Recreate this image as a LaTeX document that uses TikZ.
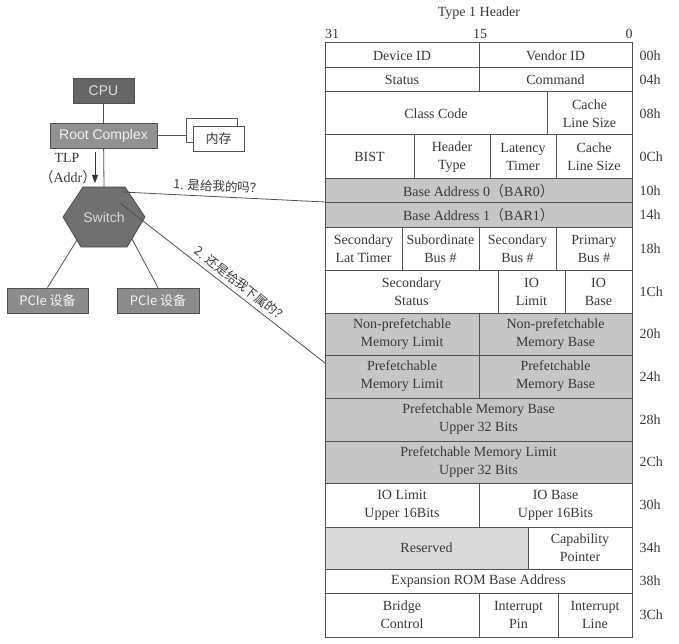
\documentclass[tikz,border=0pt]{standalone}
\usepackage{fontspec}
\setmainfont{Liberation Serif}
\setsansfont{Liberation Sans}
\newfontfamily\cjk{Noto Sans CJK SC}
\usetikzlibrary{arrows.meta}

\definecolor{linegray}{HTML}{505050}
\definecolor{txtgray}{HTML}{383838}
\definecolor{regshade}{HTML}{C6C6C6}
\definecolor{resshade}{HTML}{DADADA}

\tikzset{
  reg/.style={draw=linegray, line width=1pt, fill=white},
  regtext/.style={align=center, text=txtgray, font=\fontsize{14}{18}\selectfont, inner sep=0pt},
  offtext/.style={anchor=west, text=txtgray, font=\fontsize{14}{18}\selectfont},
  hwbox/.style={draw=linegray, line width=0.8pt, minimum height=25pt, inner sep=0pt,
                font=\sffamily\fontsize{14}{16}\selectfont},
  wire/.style={draw=linegray, line width=0.8pt}
}

\begin{document}
\begin{tikzpicture}[x=1pt, y=-1pt]
  \useasboundingbox (0,0) rectangle (679,644);

  % Header title and bit numbers
  \node[regtext] (title) at (479,13) {Type 1 Header};
  \node[regtext, anchor=west] (bit31) at (325,34) {31};
  \node[regtext] (bit15) at (480,34) {15};
  \node[regtext] (bit0) at (629,34) {0};

  % 00h
  \draw[reg] (325,43) rectangle (479,68) node[regtext, midway] (devid) {Device ID};
  \draw[reg] (479,43) rectangle (632,68) node[regtext, midway] (venid) {Vendor ID};
  \node[offtext] (o00) at (636,55.5) {00h};
  % 04h
  \draw[reg] (325,68) rectangle (479,92) node[regtext, midway] (status) {Status};
  \draw[reg] (479,68) rectangle (632,92) node[regtext, midway] (command) {Command};
  \node[offtext] (o04) at (636,80) {04h};
  % 08h
  \draw[reg] (325,92) rectangle (547,135) node[regtext, midway] (classcode) {Class Code};
  \draw[reg] (547,92) rectangle (632,135) node[regtext, midway] (cls1) {Cache\\Line Size};
  \node[offtext] (o08) at (636,113.5) {08h};
  % 0Ch
  \draw[reg] (325,135) rectangle (414,179) node[regtext, midway] (bist) {BIST};
  \draw[reg] (414,135) rectangle (490,179) node[regtext, midway] (hdrtype) {Header\\Type};
  \draw[reg] (490,135) rectangle (556,179) node[regtext, midway] (lattimer) {Latency\\Timer};
  \draw[reg] (556,135) rectangle (632,179) node[regtext, midway] (cls2) {Cache\\Line Size};
  \node[offtext] (o0c) at (636,157) {0Ch};
  % 10h, 14h
  \draw[reg, fill=regshade] (325,179) rectangle (632,203) node[regtext, midway] (bar0) {Base Address 0{\cjk （}BAR0{\cjk ）}};
  \node[offtext] (o10) at (636,191) {10h};
  \draw[reg, fill=regshade] (325,203) rectangle (632,227) node[regtext, midway] (bar1) {Base Address 1{\cjk （}BAR1{\cjk ）}};
  \node[offtext] (o14) at (636,215) {14h};
  % 18h
  \draw[reg] (325,227) rectangle (402,270) node[regtext, midway] (seclat) {Secondary\\Lat Timer};
  \draw[reg] (402,227) rectangle (479,270) node[regtext, midway] (subbus) {Subordinate\\Bus \#};
  \draw[reg] (479,227) rectangle (556,270) node[regtext, midway] (secbus) {Secondary\\Bus \#};
  \draw[reg] (556,227) rectangle (632,270) node[regtext, midway] (pribus) {Primary\\Bus \#};
  \node[offtext] (o18) at (636,248.5) {18h};
  % 1Ch
  \draw[reg] (325,270) rectangle (498,313) node[regtext, midway] (secstat) {Secondary\\Status};
  \draw[reg] (498,270) rectangle (565,313) node[regtext, midway] (iolim) {IO\\Limit};
  \draw[reg] (565,270) rectangle (632,313) node[regtext, midway] (iobase) {IO\\Base};
  \node[offtext] (o1c) at (636,291.5) {1Ch};
  % 20h, 24h
  \draw[reg, fill=regshade] (325,313) rectangle (479,355) node[regtext, midway] (npmlim) {Non-prefetchable\\Memory Limit};
  \draw[reg, fill=regshade] (479,313) rectangle (632,355) node[regtext, midway] (npmbase) {Non-prefetchable\\Memory Base};
  \node[offtext] (o20) at (636,334) {20h};
  \draw[reg, fill=regshade] (325,355) rectangle (479,398) node[regtext, midway] (pmlim) {Prefetchable\\Memory Limit};
  \draw[reg, fill=regshade] (479,355) rectangle (632,398) node[regtext, midway] (pmbase) {Prefetchable\\Memory Base};
  \node[offtext] (o24) at (636,376.5) {24h};
  % 28h, 2Ch
  \draw[reg, fill=regshade] (325,398) rectangle (632,441) node[regtext, midway] (pmbaseup) {Prefetchable Memory Base\\Upper 32 Bits};
  \node[offtext] (o28) at (636,419.5) {28h};
  \draw[reg, fill=regshade] (325,441) rectangle (632,483) node[regtext, midway] (pmlimup) {Prefetchable Memory Limit\\Upper 32 Bits};
  \node[offtext] (o2c) at (636,462) {2Ch};
  % 30h
  \draw[reg] (325,483) rectangle (479,527) node[regtext, midway] (iolimup) {IO Limit\\Upper 16Bits};
  \draw[reg] (479,483) rectangle (632,527) node[regtext, midway] (iobaseup) {IO Base\\Upper 16Bits};
  \node[offtext] (o30) at (636,505) {30h};
  % 34h
  \draw[reg, fill=resshade] (325,527) rectangle (528,569) node[regtext, midway] (reserved) {Reserved};
  \draw[reg] (528,527) rectangle (632,569) node[regtext, midway] (capptr) {Capability\\Pointer};
  \node[offtext] (o34) at (636,548) {34h};
  % 38h
  \draw[reg] (325,569) rectangle (632,593) node[regtext, midway] (rombase) {Expansion ROM Base Address};
  \node[offtext] (o38) at (636,581) {38h};
  % 3Ch
  \draw[reg] (325,593) rectangle (479,637) node[regtext, midway] (brctl) {Bridge\\Control};
  \draw[reg] (479,593) rectangle (558,637) node[regtext, midway] (intpin) {Interrupt\\Pin};
  \draw[reg] (558,593) rectangle (632,637) node[regtext, midway] (intline) {Interrupt\\Line};
  \node[offtext] (o3c) at (636,615) {3Ch};

  % CPU and root complex
  \node[hwbox, fill=black!60, text=black!12, minimum width=61pt] (cpu) at (103.5,90.5) {CPU};
  \node[hwbox, fill=black!43, text=black!5, minimum width=107pt] (rc) at (103.5,135.5) {Root Complex};
  \draw[wire] (cpu) -- (rc);

  % memory (two stacked sheets)
  \node[draw=linegray, line width=0.8pt, fill=white, minimum width=51pt, minimum height=24pt] (memback) at (211.5,130) {};
  \node[draw=linegray, line width=0.8pt, fill=white, minimum width=51pt, minimum height=25pt, inner sep=0pt,
        text=txtgray, font=\cjk\fontsize{13}{15}\selectfont] (mem) at (218.5,138.5) {内存};
  \draw[wire] (rc.east) -- (rc.east -| memback.west);

  % Switch hexagon
  \draw[draw=black!70, line width=0.8pt, fill=black!56] (83,187) -- (125,187) -- (145,217) -- (127,247)
    -- (81,247) -- (63,217) -- cycle;
  \node[minimum width=82pt, minimum height=60pt, inner sep=0pt, text=black!15,
        font=\sffamily\fontsize{14}{16}\selectfont] (switch) at (104,217) {Switch};
  \draw[wire] (rc) -- (switch.north);

  % TLP arrow
  \node[regtext] (tlp) at (67,158) {TLP};
  \node[regtext] (addr) at (68,177) {{\cjk （}Addr{\cjk ）}};
  \coordinate (tlptop) at (95,152);
  \coordinate (tlpend) at (95,183);
  \draw[line width=0.9pt, black!80, -{Triangle[length=8pt, width=6pt]}] (tlptop) -- (tlpend);

  % PCIe devices
  \node[hwbox, fill=black!45, text=black!3, minimum width=81pt, font=\cjk\fontsize{13}{15}\selectfont] (dev1) at (47.5,300.5) {PCIe 设备};
  \node[hwbox, fill=black!45, text=black!3, minimum width=82pt, font=\cjk\fontsize{13}{15}\selectfont] (dev2) at (158,300.5) {PCIe 设备};
  \coordinate (swll) at (77,240);
  \coordinate (swlr) at (132,239);
  \draw[wire] (swll) -- (dev1.north);
  \draw[wire] (swlr) -- (dev2.north);

  % Questions to the header
  \coordinate (q1start) at (122,192);
  \coordinate (q1end) at (325,202);
  \coordinate (q2start) at (120,203);
  \coordinate (q2end) at (325,363);
  \draw[wire] (q1start) -- (q1end)
    node[pos=0.47, above=1pt, sloped, text=txtgray, font=\cjk\fontsize{12.5}{14}\selectfont] (ask1) {1. 是给我的吗？};
  \draw[wire] (q2start) -- (q2end)
    node[pos=0.56, above=1pt, sloped, text=txtgray, font=\cjk\fontsize{12.5}{14}\selectfont] (ask2) {2. 还是给我下属的？};

\end{tikzpicture}
\end{document}
